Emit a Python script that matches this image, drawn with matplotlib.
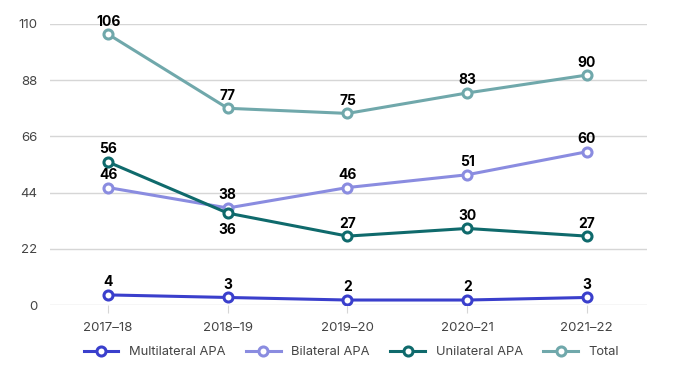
import matplotlib.pyplot as plt

plt.rcParams['font.family'] = ['Inter', 'DejaVu Sans']

years = ['2017–18', '2018–19', '2019–20', '2020–21', '2021–22']
multilateral = [4, 3, 2, 2, 3]
bilateral = [46, 38, 46, 51, 60]
unilateral = [56, 36, 27, 30, 27]
total = [106, 77, 75, 83, 90]
yticks = [0, 22, 44, 66, 88, 110]

series = [
    ('Multilateral APA', multilateral, '#3a3fcc'),
    ('Bilateral APA', bilateral, '#8a8ce0'),
    ('Unilateral APA', unilateral, '#0f6a6c'),
    ('Total', total, '#70a8ab'),
]

fig = plt.figure(figsize=(6.89, 3.80), dpi=100)
ax = fig.add_axes([0.0726, 0.197, 0.866, 0.740])

x = list(range(len(years)))
for name, vals, col in series:
    ax.plot(x, vals, color=col, lw=2.2, marker='o', ms=6.5, mfc='white',
            mec=col, mew=2.2, label=name, zorder=3)
    for i, v in enumerate(vals):
        if name == 'Unilateral APA' and i == 1:
            ax.annotate(str(v), (i, v), xytext=(0, -7), textcoords='offset points',
                        ha='center', va='top', fontsize=10, fontweight='bold')
        else:
            ax.annotate(str(v), (i, v), xytext=(0, 4), textcoords='offset points',
                        ha='center', va='bottom', fontsize=10, fontweight='bold')

ax.set_xlim(-0.485, 4.5)
ax.set_ylim(-0.001, 110)
ax.set_yticks(yticks)
ax.set_xticks(x)
ax.set_xticklabels(years)
ax.grid(axis='y', color='#d6d6d6', lw=1)
ax.set_axisbelow(True)
for s in ax.spines.values():
    s.set_visible(False)
ax.tick_params(axis='y', length=0, pad=9, labelsize=9.5, labelcolor='#444444')
ax.tick_params(axis='x', length=6, color='#d6d6d6', pad=6, labelsize=9.5, labelcolor='#444444')

ax.legend(loc='upper center', bbox_to_anchor=(0.505, -0.105), ncol=4, frameon=False,
          fontsize=9.3, handlelength=2.7, handletextpad=0.8, columnspacing=1.6,
          labelcolor='#444444')

fig.savefig('out.png', dpi=100)
